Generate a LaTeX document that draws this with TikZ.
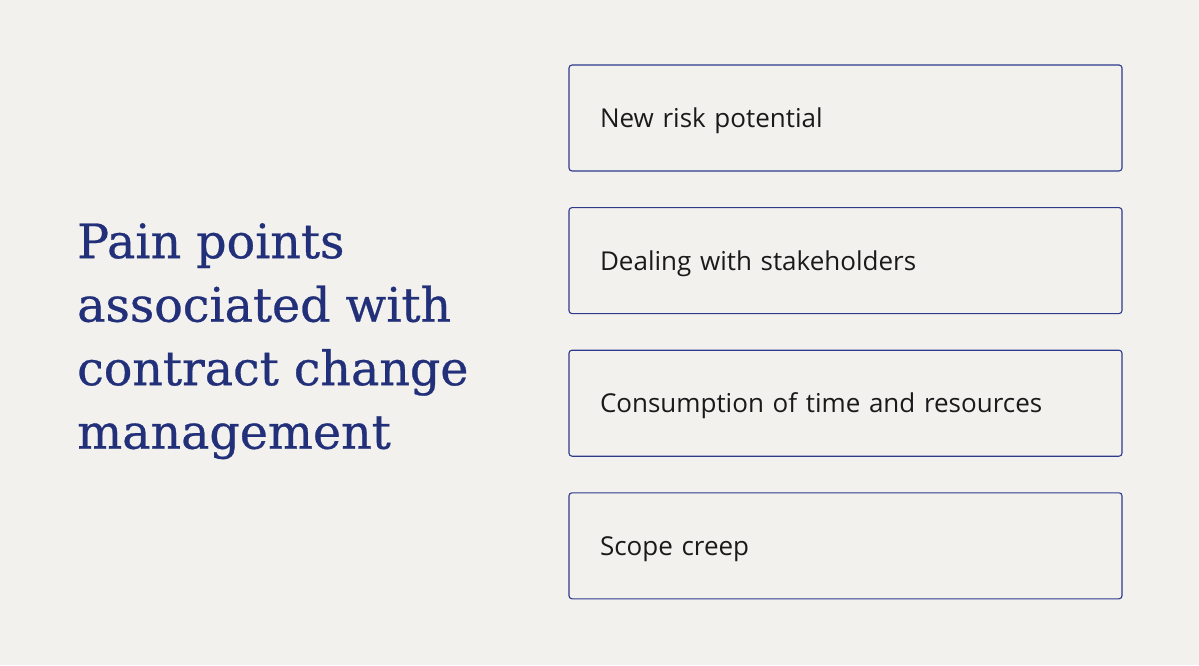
\documentclass[tikz,border=0pt]{standalone}
\usepackage{fontspec}
\setmainfont{DejaVu Serif}[FakeBold=0.6]
\newfontfamily\boxfont{Open Sans}
\usetikzlibrary{positioning}
\definecolor{bgcol}{HTML}{F2F1EE}
\definecolor{navy}{HTML}{22307A}
\definecolor{boxline}{HTML}{2E3A8C}
\definecolor{ink}{HTML}{1A1A1A}

\begin{document}
\begin{tikzpicture}[x=1pt,y=1pt,
  painbox/.style={draw=boxline,line width=1.1pt,rounded corners=3pt,
    minimum width=553pt,minimum height=106pt,text width=491pt,
    inner xsep=31pt,align=left,text=ink,text height=25pt,text depth=6pt,
    font=\boxfont\fontsize{26}{32}\selectfont},
  node distance=35.5pt]
  \fill[bgcol] (0,0) rectangle (1199,665);
  \useasboundingbox (0,0) rectangle (1199,665);

  \node (title) [anchor=north west,inner sep=0pt,align=left,text=navy,
    font=\fontsize{47.5}{63.5}\selectfont] at (77,442)
    {Pain points\\associated with\\contract change\\management};

  \node (p1) [painbox] at (845.5,547) {New risk potential};
  \node (p2) [painbox,below=of p1] {Dealing with stakeholders};
  \node (p3) [painbox,below=of p2] {Consumption of time and resources};
  \node (p4) [painbox,below=of p3] {Scope creep};
\end{tikzpicture}
\end{document}
